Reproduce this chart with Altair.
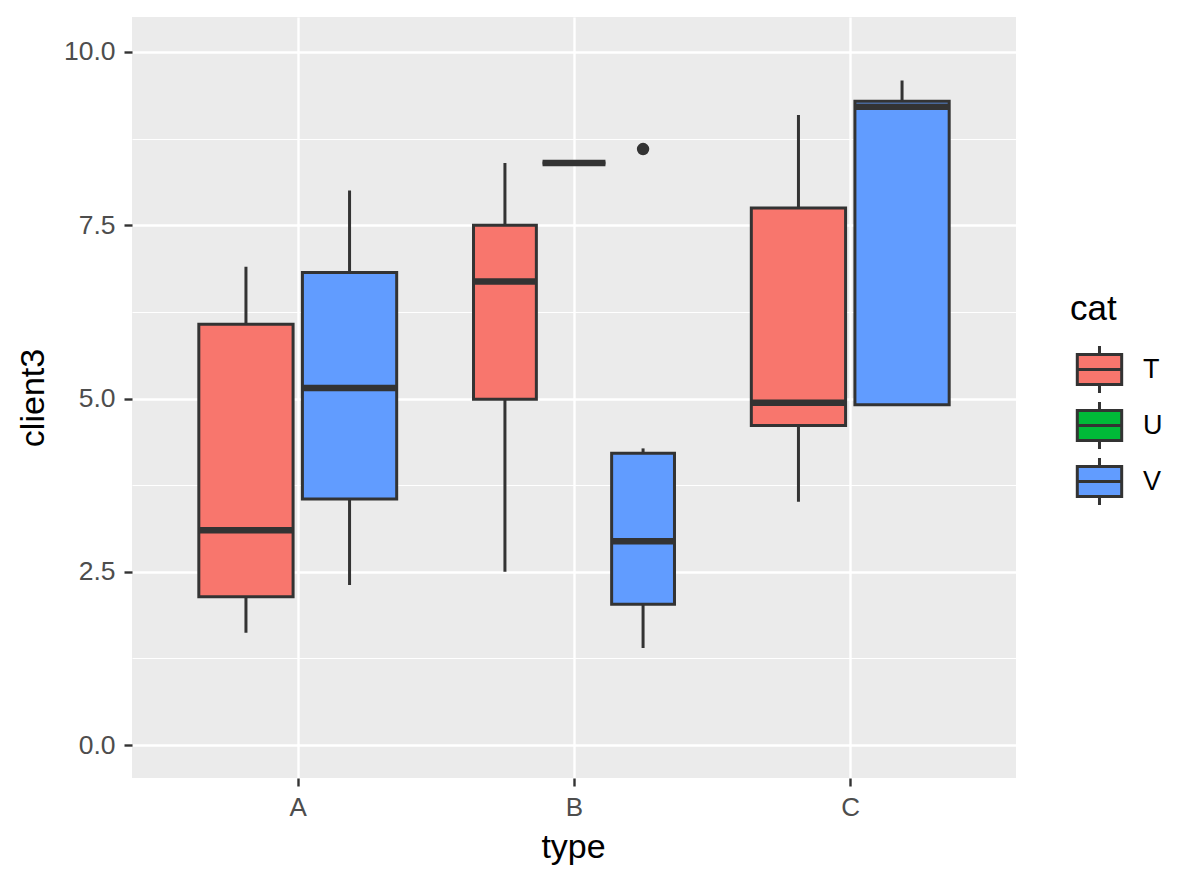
import altair as alt
import pandas as pd

# ---- data ----
types = ["A", "A", "B", "B", "B", "C", "C"]
cats = ["T", "V", "T", "U", "V", "T", "V"]
lower = [1.62, 2.31, 2.50, 8.40, 1.40, 3.51, 4.91]
q1 = [2.14, 3.55, 4.99, 8.40, 2.03, 4.61, 4.91]
median = [3.10, 5.15, 6.69, 8.40, 2.94, 4.94, 9.21]
q3 = [6.07, 6.82, 7.50, 8.40, 4.21, 7.75, 9.29]
upper = [6.90, 8.00, 8.40, 8.40, 4.28, 9.09, 9.59]

out_type = ["B"]
out_cat = ["V"]
out_value = [8.60]

type_levels = ["A", "B", "C"]
cat_levels = ["T", "U", "V"]
cat_colors = ["#F8766D", "#00BA38", "#619CFF"]
y_ticks = [0, 1.25, 2.5, 3.75, 5, 6.25, 7.5, 8.75, 10]

# ---- dodge positions (like ggplot position_dodge) ----
df = pd.DataFrame(dict(type=types, cat=cats, lower=lower, q1=q1,
                       median=median, q3=q3, upper=upper))
df["n"] = df.groupby("type")["cat"].transform("count")
df["j"] = df.groupby("type").cumcount()
df["ti"] = df["type"].map({t: i + 1 for i, t in enumerate(type_levels)})
df["xc"] = df["ti"] + (df["j"] - (df["n"] - 1) / 2) * 0.75 / df["n"]
df["hw"] = 0.91 * 0.75 / df["n"] / 2
df["x0"] = df["xc"] - df["hw"]
df["x1"] = df["xc"] + df["hw"]

outs = pd.DataFrame(dict(type=out_type, cat=out_cat, value=out_value))
outs = outs.merge(df[["type", "cat", "xc"]], on=["type", "cat"])

FONT = "Liberation Sans"
DARK = "#333333"

x_scale = alt.Scale(domain=[0.4, 3.6], nice=False, zero=False)
y_scale = alt.Scale(domain=[-0.476, 10.505], nice=False, zero=False)

x_axis = alt.Axis(
    values=[1, 2, 3],
    labelExpr="['','A','B','C'][datum.value]",
    title="type",
    grid=True, gridColor="white", gridWidth=2.4,
    domain=False, ticks=True, tickSize=8, tickWidth=2.4, tickColor=DARK,
    labelFontSize=26, labelColor="#4D4D4D", labelPadding=8, labelFont=FONT,
    titleFontSize=34, titleColor="black", titleFontWeight="normal", titleFont=FONT,
    titleBaseline="alphabetic", titleY=79, titleX=441,
)

major = "datum.value % 2.5 === 0"
y_axis = alt.Axis(
    values=y_ticks,
    labelExpr="datum.value % 2.5 === 0 ? format(datum.value, '.1f') : ''",
    title="client3",
    grid=True, gridColor="white",
    gridWidth={"condition": {"test": major, "value": 2.4}, "value": 1.2},
    tickOpacity={"condition": {"test": major, "value": 1}, "value": 0},
    domain=False, ticks=True, tickSize=8, tickWidth=2.4, tickColor=DARK,
    labelFontSize=26.5, labelColor="#4D4D4D", labelPadding=9, labelFont=FONT,
    titleFontSize=34, titleColor="black", titleFontWeight="normal", titleFont=FONT,
    titleAngle=270, titleBaseline="alphabetic", titleX=-89, titleY=380.5,
)

# boxplot-shaped legend key (box, median, whisker ticks)
legend_path = ("M-0.748,-0.652 L1.182,-0.652 L1.182,0.652 L-0.748,0.652 Z "
               "M-0.748,0 L1.182,0 M0.217,-0.652 L0.217,-1.02 "
               "M0.217,0.652 L0.217,1.02")

legend = alt.Legend(
    orient="none", legendX=938, legendY=275,
    title="cat", titleFontSize=35, titleFontWeight="normal", titleColor="black",
    titleFont=FONT, titlePadding=18,
    symbolType=legend_path, symbolSize=2116,
    symbolStrokeColor=DARK, symbolStrokeWidth=3, symbolOpacity=1,
    labelFontSize=27, labelColor="black", labelFont=FONT, labelOffset=24,
    rowPadding=-3, padding=0,
)

base = alt.Chart(df)

whisker = base.mark_rule(color=DARK, strokeWidth=3).encode(
    x=alt.X("xc:Q", scale=x_scale, axis=x_axis),
    y=alt.Y("lower:Q", scale=y_scale, axis=y_axis),
    y2="upper:Q",
)

box = base.mark_bar(stroke=DARK, strokeWidth=3, opacity=1).encode(
    x=alt.X("x0:Q", scale=x_scale, axis=x_axis),
    x2="x1:Q",
    y=alt.Y("q1:Q", scale=y_scale, axis=y_axis),
    y2="q3:Q",
    fill=alt.Fill("cat:N", scale=alt.Scale(domain=cat_levels, range=cat_colors),
                  legend=legend),
)

med = base.mark_rule(color=DARK, strokeWidth=6.5).encode(
    x=alt.X("x0:Q", scale=x_scale, axis=x_axis),
    x2="x1:Q",
    y=alt.Y("median:Q", scale=y_scale, axis=y_axis),
)

pts = alt.Chart(outs).mark_circle(size=154, color=DARK, opacity=1).encode(
    x=alt.X("xc:Q", scale=x_scale, axis=x_axis),
    y=alt.Y("value:Q", scale=y_scale, axis=y_axis),
)

chart = alt.layer(whisker, box, med, pts).properties(
    width=884, height=761,
    autosize=alt.AutoSizeParams(type="none"),
    padding={"left": 124, "top": 9, "right": 170, "bottom": 92},
).configure(font=FONT).configure_view(fill="#EBEBEB", strokeWidth=0)

chart.save("out.html", embed_options={"renderer": "svg", "actions": False})
